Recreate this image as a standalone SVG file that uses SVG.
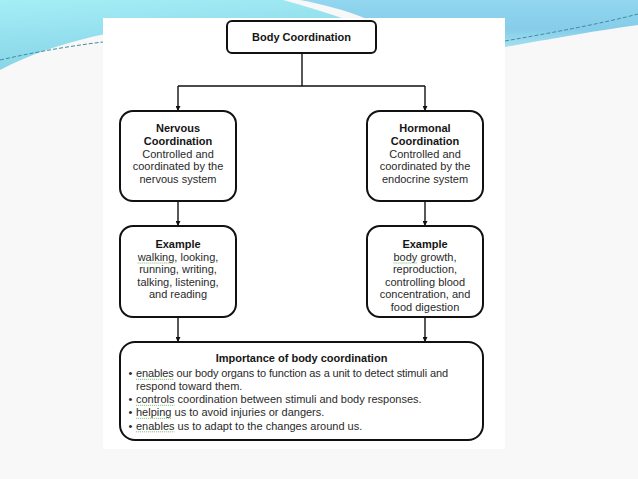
<svg xmlns="http://www.w3.org/2000/svg" width="638" height="479" viewBox="0 0 638 479">
  <defs>
    <linearGradient id="gL" x1="0" y1="0" x2="0.3" y2="1">
      <stop offset="0" stop-color="#a4eef6"/>
      <stop offset="1" stop-color="#86d3e6"/>
    </linearGradient>
    <linearGradient id="gR" x1="0" y1="0" x2="0" y2="1">
      <stop offset="0" stop-color="#92d6ef"/>
      <stop offset="0.6" stop-color="#86cde9"/>
      <stop offset="1" stop-color="#a9e2f2"/>
    </linearGradient>
    <marker id="arr" viewBox="0 0 10 10" refX="10" refY="5" markerWidth="5" markerHeight="5" orient="auto" markerUnits="userSpaceOnUse">
      <path d="M0,0 L10,5 L0,10 Z" fill="#111"/>
    </marker>
    <style>
      .box { fill: #ffffff; stroke: #111; stroke-width: 2; }
      .conn { fill: none; stroke: #111; stroke-width: 1.4; }
      .b { font-family: "Liberation Sans", Arial, sans-serif; font-size: 11px; font-weight: bold; fill: #151515; }
      .t { font-family: "Liberation Sans", Arial, sans-serif; font-size: 11px; fill: #2a2a2a; }
      .sq { stroke: #7cbf6e; stroke-width: 0.9; stroke-dasharray: 1.2 0.8; fill: none; }
    </style>
  </defs>

  <!-- slide background -->
  <rect x="0" y="0" width="638" height="479" fill="#f8f8f8"/>
  <path d="M0,0 H283 C305,6 325,12 345,19 C250,22 170,25 110,33 C65,42 28,55 0,70 Z" fill="url(#gL)"/>
  <path d="M300,0 H638 V25 C600,30 545,40 505,47 C450,56 400,34 367,19 C345,10 322,4 300,0 Z" fill="url(#gR)"/>
  <path d="M0,60 C35,52 70,46 103,42" fill="none" stroke="#3f8e9c" stroke-width="1" stroke-dasharray="4 2"/>
  <path d="M505,41 C550,33 600,24 638,14" fill="none" stroke="#3f8e9c" stroke-width="1" stroke-dasharray="4 2"/>

  <!-- white panel -->
  <rect x="103" y="18" width="402" height="431" fill="#ffffff"/>

  <!-- connectors -->
  <g id="connectors">
    <path class="conn" d="M302,53 V86 M178,86 H425"/>
    <path class="conn" d="M178,86 V111" marker-end="url(#arr)"/>
    <path class="conn" d="M425,86 V111" marker-end="url(#arr)"/>
    <path class="conn" d="M178,201 V226" marker-end="url(#arr)"/>
    <path class="conn" d="M425,201 V226" marker-end="url(#arr)"/>
    <path class="conn" d="M178,317 V342" marker-end="url(#arr)"/>
    <path class="conn" d="M425,317 V342" marker-end="url(#arr)"/>
  </g>

  <g id="body-coordination">
    <rect class="box" x="227" y="21" width="149" height="32" rx="5"/>
    <text class="b" x="301.5" y="41" text-anchor="middle">Body Coordination</text>
  </g>

  <g id="nervous">
    <rect class="box" x="120" y="111" width="116" height="90" rx="13"/>
    <text class="b" x="178" y="132" text-anchor="middle">Nervous</text>
    <text class="b" x="178" y="144.8" text-anchor="middle">Coordination</text>
    <text class="t" x="178" y="157.6" text-anchor="middle">Controlled and</text>
    <text class="t" x="178" y="170.4" text-anchor="middle">coordinated by the</text>
    <text class="t" x="178" y="183.2" text-anchor="middle">nervous system</text>
  </g>

  <g id="hormonal">
    <rect class="box" x="367" y="111" width="116" height="90" rx="13"/>
    <text class="b" x="425" y="132" text-anchor="middle">Hormonal</text>
    <text class="b" x="425" y="144.8" text-anchor="middle">Coordination</text>
    <text class="t" x="425" y="157.6" text-anchor="middle">Controlled and</text>
    <text class="t" x="425" y="170.4" text-anchor="middle">coordinated by the</text>
    <text class="t" x="425" y="183.2" text-anchor="middle">endocrine system</text>
  </g>

  <g id="nervous-example">
    <rect class="box" x="120" y="226" width="116" height="91" rx="13"/>
    <text class="b" x="178" y="248" text-anchor="middle">Example</text>
    <text class="t" x="178" y="260.6" text-anchor="middle">walking, looking,</text>
    <text class="t" x="178" y="273.2" text-anchor="middle">running, writing,</text>
    <text class="t" x="178" y="285.8" text-anchor="middle">talking, listening,</text>
    <text class="t" x="178" y="298.4" text-anchor="middle">and reading</text>
    <line class="sq" x1="137.6" y1="263" x2="174.3" y2="263"/>
  </g>

  <g id="hormonal-example">
    <rect class="box" x="367" y="226" width="116" height="91" rx="13"/>
    <text class="b" x="425" y="248" text-anchor="middle">Example</text>
    <text class="t" x="425" y="260.6" text-anchor="middle">body growth,</text>
    <text class="t" x="425" y="273.2" text-anchor="middle">reproduction,</text>
    <text class="t" x="425" y="285.8" text-anchor="middle">controlling blood</text>
    <text class="t" x="425" y="298.4" text-anchor="middle">concentration, and</text>
    <text class="t" x="425" y="311" text-anchor="middle">food digestion</text>
    <line class="sq" x1="393.5" y1="263" x2="417.3" y2="263"/>
  </g>

  <g id="importance">
    <rect class="box" x="120" y="342" width="363" height="98" rx="15"/>
    <text class="b" x="301.5" y="362" text-anchor="middle">Importance of body coordination</text>
    <text class="t" x="128.5" y="377">•</text>
    <text class="t" x="136" y="377" textLength="312" lengthAdjust="spacing">enables our body organs to function as a unit to detect stimuli and</text>
    <text class="t" x="136" y="390">respond toward them.</text>
    <text class="t" x="128.5" y="403">•</text>
    <text class="t" x="136" y="403">controls coordination between stimuli and body responses.</text>
    <text class="t" x="128.5" y="416">•</text>
    <text class="t" x="136" y="416">helping us to avoid injuries or dangers.</text>
    <text class="t" x="128.5" y="429.5">•</text>
    <text class="t" x="136" y="429.5">enables us to adapt to the changes around us.</text>
    <line class="sq" x1="136" y1="379.3" x2="173.5" y2="379.3"/>
    <line class="sq" x1="136" y1="405.3" x2="174.5" y2="405.3"/>
    <line class="sq" x1="136" y1="418.3" x2="171.5" y2="418.3"/>
    <line class="sq" x1="136" y1="431.8" x2="174.5" y2="431.8"/>
  </g>
</svg>
